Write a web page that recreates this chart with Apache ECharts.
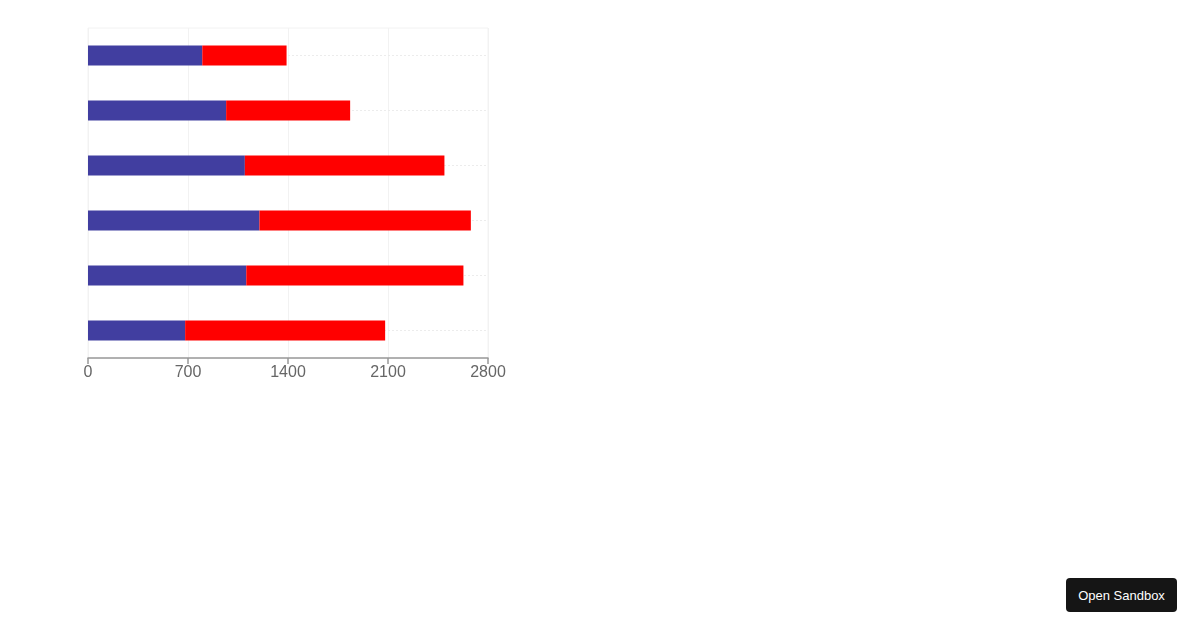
<!DOCTYPE html>
<html>
<head>
<meta charset="utf-8">
<script src="https://cdn.jsdelivr.net/npm/echarts@6/dist/echarts.min.js"></script>
<style>
  html, body { margin: 0; padding: 0; background: #fff; }
  #chart { width: 1200px; height: 630px; }
  .sandbox-btn {
    position: absolute; left: 1066px; top: 578px; width: 111px; height: 34px;
    background: #151515; color: #fff; border-radius: 4px;
    font: 13px "Liberation Sans", Arial, sans-serif;
    display: flex; align-items: center; justify-content: center;
  }
</style>
</head>
<body>
<div id="chart"></div>
<div class="sandbox-btn">Open Sandbox</div>
<script>
  // page names (axis labels are hidden in the reference)
  const pages = ["Page A", "Page B", "Page C", "Page D", "Page E", "Page F"];
  const pv = [800, 967, 1098, 1200, 1108, 680];
  const uv = [590, 868, 1397, 1480, 1520, 1400];
  const xTicks = { min: 0, max: 2800, interval: 700 };

  const BLUE = "#413ea0";
  const RED = "#ff0000";
  const GRID = "#f2f2f2";

  const inst = echarts.init(document.getElementById("chart"), null, { renderer: "canvas" });
  inst.setOption({
    animation: false,
    grid: {
      left: 88, top: 28, width: 400, height: 330,
      show: true, borderColor: GRID, borderWidth: 1,
    },
    xAxis: {
      type: "value", min: xTicks.min, max: xTicks.max, interval: xTicks.interval,
      axisLine: { show: true, lineStyle: { color: "#999", width: 1.5 } },
      axisTick: { show: true, length: 6, lineStyle: { color: "#999", width: 1.5 } },
      axisLabel: {
        color: "#666", fontSize: 16, margin: 7,
        fontFamily: "Liberation Sans, Arial, sans-serif",
        formatter: (v) => String(v),
      },
      splitLine: { show: true, lineStyle: { color: GRID, width: 1 } },
    },
    yAxis: {
      type: "category", data: pages, inverse: true,
      axisLine: { show: false }, axisTick: { show: false },
      axisLabel: { show: false }, splitLine: { show: false },
    },
    series: [
      {
        name: "pv", type: "bar", stack: "a", data: pv, barWidth: 20,
        itemStyle: { color: BLUE },
        markLine: {
          symbol: "none", silent: true, label: { show: false },
          lineStyle: { color: "#ececec", type: [2, 2], width: 1 },
          data: pages.map((p) => ({ yAxis: p })),
          z: 0,
        },
        z: 2,
      },
      {
        name: "uv", type: "bar", stack: "a", data: uv, barWidth: 20,
        itemStyle: { color: RED }, z: 2,
      },
    ],
  });
</script>
</body>
</html>
